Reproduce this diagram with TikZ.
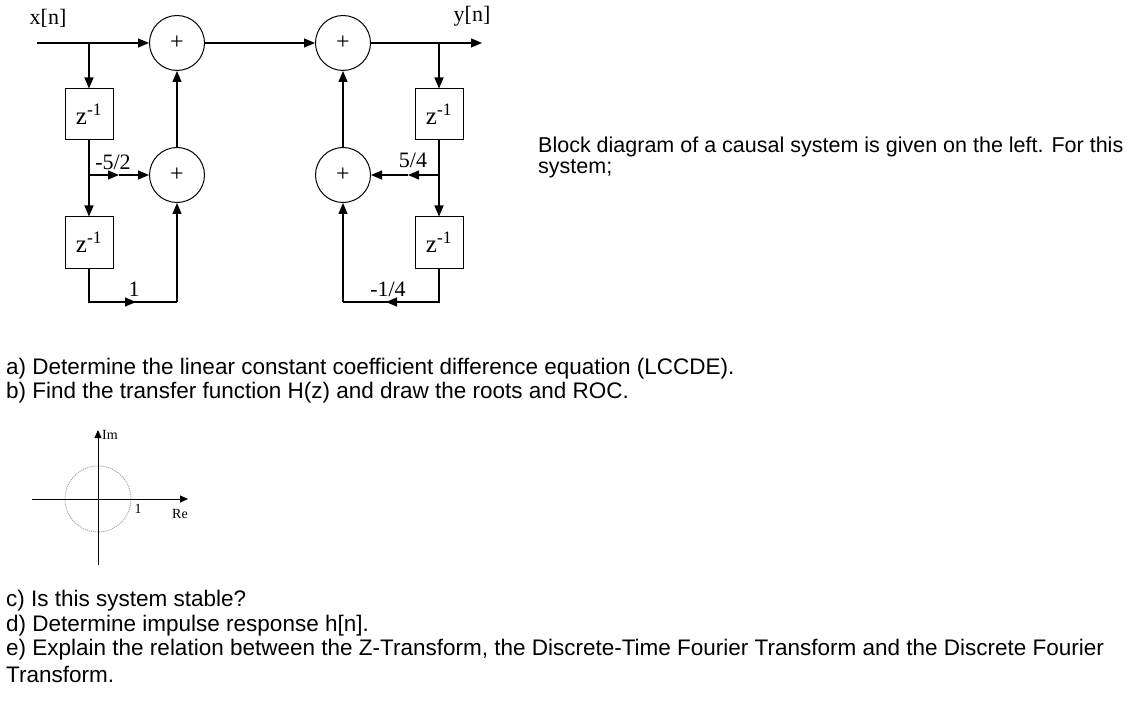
\documentclass[tikz,border=0pt]{standalone}
\usepackage{fontspec}
\setmainfont{Liberation Sans}
\newfontfamily\tms{Liberation Serif}
\usetikzlibrary{arrows.meta}
\begin{document}
\begin{tikzpicture}[x=1pt,y=-1pt,
  sum/.style={circle,draw,line width=1pt,minimum size=55pt,inner sep=0pt,font=\tms\fontsize{24}{24}\selectfont},
  dly/.style={rectangle,draw,line width=1pt,minimum width=48pt,minimum height=51pt,inner sep=0pt,font=\tms\fontsize{25}{25}\selectfont},
  ln/.style={line width=1.2pt},
  ar/.style={ln,-{Triangle[length=11pt,width=9pt]}},
  lbl/.style={font=\tms\fontsize{22}{22}\selectfont,inner sep=0pt},
  txt/.style={font=\fontsize{22.5}{24}\selectfont,anchor=west,inner sep=0pt},
  tip/.style={-{Triangle[length=11pt,width=9pt]}}]
\useasboundingbox (0,0) rectangle (1131,711);
\node[sum] (s1) at (177,43) {+};
\node[sum] (s2) at (343,43) {+};
\node[sum] (s3) at (177,175) {+};
\node[sum] (s4) at (343,175) {+};
\node[dly] (d1) at (89,114.5) {z\textsuperscript{-1}};
\node[dly] (d2) at (89,242.5) {z\textsuperscript{-1}};
\node[dly] (d3) at (439,114.5) {z\textsuperscript{-1}};
\node[dly] (d4) at (439,242.5) {z\textsuperscript{-1}};
\coordinate (in) at (37,43);
\coordinate (b1) at (89,43);
\coordinate (t1) at (89,175);
\coordinate (m1) at (119,175);
\coordinate (bl) at (89,302);
\coordinate (br1) at (177,302);
\coordinate (m2) at (136,302);
\coordinate (out) at (482,43);
\coordinate (b2) at (439,43);
\coordinate (t2) at (439,175);
\coordinate (m3) at (408,175);
\coordinate (brr) at (439,302);
\coordinate (bll) at (343,302);
\coordinate (m4) at (386,302);
\draw[ar] (in) -- (s1);
\draw[ar] (b1) -- (d1);
\draw[ln] (d1) -- (t1);
\draw[ar] (t1) -- (d2);
\draw[ln,tip] (t1) -- (m1);
\draw[ar] (m1) -- (s3);
\draw[ln] (d2) -- (bl) -- (br1);
\draw[ln,tip] (bl) -- (m2);
\draw[ar] (br1) -- (s3);
\draw[ar] (s3) -- (s1);
\draw[ar] (s1) -- (s2);
\draw[ar] (s2) -- (out);
\draw[ar] (b2) -- (d3);
\draw[ln] (d3) -- (t2);
\draw[ar] (t2) -- (d4);
\draw[ln,tip] (t2) -- (m3);
\draw[ar] (m3) -- (s4);
\draw[ln] (d4) -- (brr) -- (bll);
\draw[ln,tip] (brr) -- (m4);
\draw[ar] (bll) -- (s4);
\draw[ar] (s4) -- (s2);
\node[lbl] (lx) at (48,18) {x[n]};
\node[lbl] (ly) at (472,16) {y[n]};
\node[lbl] (l1) at (113,162) {-5/2};
\node[lbl] (l2) at (413,160) {5/4};
\node[lbl] (l3) at (134,289) {1};
\node[lbl] (l4) at (388,289) {-1/4};
\node[txt,font=\fontsize{21.5}{24}\selectfont] (r1) at (538,147) {Block diagram of a causal system is given on the left. For this};
\node[txt,font=\fontsize{21.5}{24}\selectfont] (r2) at (538,169) {system;};
\node[txt] (qa) at (6,369) {a) Determine the linear constant coefficient difference equation (LCCDE).};
\node[txt] (qb) at (6,393) {b) Find the transfer function H(z) and draw the roots and ROC.};
\node[txt] (qc) at (6,601) {c) Is this system stable?};
\node[txt] (qd) at (6,626) {d) Determine impulse response h[n].};
\node[txt] (qe) at (6,650) {e) Explain the relation between the Z-Transform, the Discrete-Time Fourier Transform and the Discrete Fourier};
\node[txt] (qf) at (6,674) {Transform.};
\coordinate (o) at (98,499);
\coordinate (xl) at (32,499);
\coordinate (xr) at (188,499);
\coordinate (yt) at (98,430);
\coordinate (yb) at (98,565);
\draw[gray!70,densely dotted,line width=1pt] (o) circle (33);
\draw[line width=0.8pt,-{Triangle[length=8pt,width=7pt]}] (xl) -- (xr);
\draw[line width=0.8pt,-{Triangle[length=8pt,width=7pt]}] (yb) -- (yt);
\node[font=\tms\fontsize{14}{14}\selectfont,inner sep=0pt] (im) at (110,435) {Im};
\node[font=\tms\fontsize{14}{14}\selectfont,inner sep=0pt] (one) at (138,509) {1};
\node[font=\tms\fontsize{14}{14}\selectfont,inner sep=0pt] (re) at (180,514) {Re};
\end{tikzpicture}
\end{document}
